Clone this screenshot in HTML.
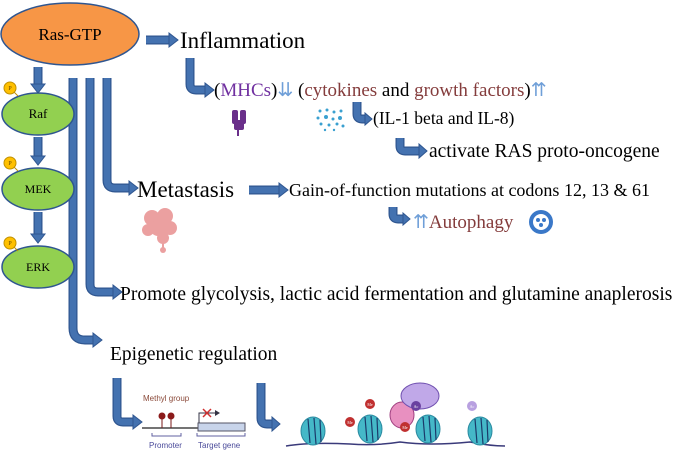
<!DOCTYPE html>
<html><head><meta charset="utf-8"><style>
html,body{margin:0;padding:0;background:#fff;}
svg{display:block;}
text{font-family:"Liberation Serif",serif;}
.s{font-family:"Liberation Sans",sans-serif;}
</style></head><body>
<svg width="685" height="453" viewBox="0 0 685 453" xmlns="http://www.w3.org/2000/svg">
<g fill="none" stroke-linejoin="round">
 <g stroke="#2f5690" stroke-width="9">
  <path d="M146 40H170"/>
  <path d="M190 58V84Q190 90 196 90H206"/>
  <path d="M38 67V85M38 137V157M38 212V235"/>
  <path d="M73 78V328Q73 340 85 340H94"/>
  <path d="M90 78V284Q90 292 98 292H114"/>
  <path d="M107 78V180Q107 188 115 188H130"/>
  <path d="M249 190H280"/>
  <path d="M357 102V114Q357 119 362 119H366"/>
  <path d="M400 138V146Q400 151 405 151H420"/>
  <path d="M393 207V214Q393 219 398 219H404"/>
  <path d="M117 378V416Q117 422 123 422H134"/>
  <path d="M261 383V418Q261 424 267 424H273"/>
 </g>
 <g stroke="#4472b0" stroke-width="6.5">
  <path d="M146 40H170"/>
  <path d="M190 58V84Q190 90 196 90H206"/>
  <path d="M38 67V85M38 137V157M38 212V235"/>
  <path d="M73 78V328Q73 340 85 340H94"/>
  <path d="M90 78V284Q90 292 98 292H114"/>
  <path d="M107 78V180Q107 188 115 188H130"/>
  <path d="M249 190H280"/>
  <path d="M357 102V114Q357 119 362 119H366"/>
  <path d="M400 138V146Q400 151 405 151H420"/>
  <path d="M393 207V214Q393 219 398 219H404"/>
  <path d="M117 378V416Q117 422 123 422H134"/>
  <path d="M261 383V418Q261 424 267 424H273"/>
 </g>
</g>
<g fill="#4472b0" stroke="#2f5690" stroke-width="1">
 <polygon points="169,33 178,40 169,47"/>
 <polygon points="205,83 214,90 205,97"/>
 <polygon points="31,84 45,84 38,93"/>
 <polygon points="31,156 45,156 38,165"/>
 <polygon points="31,234 45,234 38,243"/>
 <polygon points="93,333 102,340 93,347"/>
 <polygon points="113,285 122,292 113,299"/>
 <polygon points="129,181 138,188 129,195"/>
 <polygon points="279,183 288,190 279,197"/>
 <polygon points="365,113 372,119 365,125"/>
 <polygon points="419,144 427,151 419,158"/>
 <polygon points="403,213 410,219 403,225"/>
 <polygon points="133,415 142,422 133,429"/>
 <polygon points="272,417 280,424 272,431"/>
</g>
<ellipse cx="70" cy="34" rx="69" ry="31" fill="#f79646" stroke="#2f5690" stroke-width="1.5"/>
<text x="70" y="40" font-size="17" text-anchor="middle">Ras-GTP</text>
<g stroke="#2f5690" stroke-width="1.5" fill="#92d050">
 <ellipse cx="38" cy="114" rx="36" ry="21"/>
 <ellipse cx="38" cy="189" rx="36" ry="21"/>
 <ellipse cx="38" cy="267" rx="36" ry="21"/>
</g>
<text x="38" y="118" font-size="13" text-anchor="middle">Raf</text>
<text x="38" y="193" font-size="12" text-anchor="middle">MEK</text>
<text x="38" y="271" font-size="12" text-anchor="middle">ERK</text>
<g fill="#ffc000" stroke="#c09000"><line x1="10" y1="88" x2="18" y2="96"/><line x1="10" y1="163" x2="18" y2="171"/><line x1="10" y1="243" x2="18" y2="251"/>
<circle cx="10" cy="88" r="6"/><circle cx="10" cy="163" r="6"/><circle cx="10" cy="243" r="6"/></g>
<g class="s" font-size="6" fill="#6b4a00" text-anchor="middle"><text x="10" y="90">P</text><text x="10" y="165">P</text><text x="10" y="245">P</text></g>

<text x="180" y="48" font-size="23">Inflammation</text>
<text x="214" y="96" font-size="19">(<tspan fill="#7030a0">MHCs</tspan>)<tspan fill="#6f9fd8">⇊</tspan> (<tspan fill="#843c3c">cytokines</tspan> and <tspan fill="#843c3c">growth factors</tspan>)<tspan fill="#6f9fd8">⇈</tspan></text>
<text x="373" y="124" font-size="17.5">(IL-1 beta and IL-8)</text>
<text x="429" y="157" font-size="19.5">activate RAS proto-oncogene</text>
<text x="137" y="197" font-size="23">Metastasis</text>
<text x="289" y="196" font-size="18">Gain-of-function mutations at codons 12, 13 &amp; 61</text>
<text x="413" y="228" font-size="19"><tspan fill="#6f9fd8">⇈</tspan><tspan fill="#843c3c">Autophagy</tspan></text>
<circle cx="541" cy="222" r="12" fill="#3a78c8"/><circle cx="541" cy="222" r="8" fill="#fff"/>
<circle cx="538" cy="220" r="2" fill="#3a78c8"/><circle cx="544" cy="220" r="2" fill="#3a78c8"/><circle cx="541" cy="225" r="2" fill="#3a78c8"/>
<text x="120" y="300" font-size="19.5">Promote glycolysis, lactic acid fermentation and glutamine anaplerosis</text>
<text x="110" y="360" font-size="19.5">Epigenetic regulation</text>

<g fill="#6a2f8a"><rect x="232" y="110" width="6" height="14" rx="2"/><rect x="240" y="110" width="6" height="14" rx="2"/><rect x="234" y="120" width="10" height="10" rx="2"/><rect x="237" y="128" width="2" height="8"/></g>
<g fill="#3aa0d0"><circle cx="320" cy="111" r="1.5"/><circle cx="327" cy="110" r="1.5"/><circle cx="334" cy="112" r="1.5"/><circle cx="341" cy="111" r="1.5"/><circle cx="318" cy="118" r="1.5"/><circle cx="326" cy="117" r="2"/><circle cx="333" cy="119" r="1.5"/><circle cx="340" cy="118" r="2"/><circle cx="321" cy="124" r="1.5"/><circle cx="329" cy="125" r="1.5"/><circle cx="337" cy="124" r="1.5"/><circle cx="343" cy="126" r="1.5"/><circle cx="325" cy="130" r="1.2"/><circle cx="334" cy="130" r="1.2"/></g>
<g fill="#e89090" opacity="0.85"><circle cx="152" cy="218" r="8"/><circle cx="165" cy="216" r="8"/><circle cx="158" cy="228" r="8"/><circle cx="170" cy="228" r="7"/><circle cx="163" cy="238" r="6"/><circle cx="148" cy="230" r="6"/><rect x="162" y="240" width="2" height="8"/><circle cx="163" cy="250" r="3"/></g>

<text x="143" y="401" class="s" font-size="8" fill="#8b4a3a">Methyl group</text>
<line x1="142" y1="428" x2="245" y2="428" stroke="#222" stroke-width="1.2"/>
<rect x="198" y="423" width="47" height="8" fill="#c8d4ea" stroke="#556" stroke-width="1"/>
<g stroke="#7a1a1a"><line x1="162" y1="418" x2="162" y2="428"/><line x1="171" y1="418" x2="171" y2="428"/></g>
<circle cx="162" cy="416" r="3.5" fill="#8b1a1a"/><circle cx="171" cy="416" r="3.5" fill="#8b1a1a"/>
<path d="M199 423V413H215" stroke="#334" fill="none"/><polygon points="215,410 220,413 215,416" fill="#334"/>
<path d="M203 409L211 417M211 409L203 417" stroke="#d03030" stroke-width="1.5"/>
<path d="M152 433v3h29v-3M197 433v3h48v-3" stroke="#6060a0" fill="none"/>
<text x="149" y="448" class="s" font-size="8" fill="#4a4a9a">Promoter</text>
<text x="198" y="448" class="s" font-size="8" fill="#4a4a9a">Target gene</text>

<path d="M286 446Q310 442 350 444Q375 446 400 442Q430 446 470 442Q490 446 505 446" stroke="#3a3a7a" fill="none" stroke-width="1.5"/>
<g fill="#45b8c8" stroke="#2a8aa0"><ellipse cx="313" cy="431" rx="12" ry="14"/><ellipse cx="370" cy="429" rx="12" ry="14"/><ellipse cx="428" cy="429" rx="12" ry="14"/><ellipse cx="480" cy="431" rx="12" ry="14"/></g>
<g stroke="#1a3a6a" stroke-width="1.2"><path d="M308 419L310 443M314 418L316 444M320 420L321 442"/><path d="M365 417L367 441M371 416L373 442M377 418L378 440"/><path d="M423 417L425 441M429 416L431 442M435 418L436 440"/><path d="M475 419L477 443M481 418L483 444M487 420L488 442"/></g>
<ellipse cx="402" cy="415" rx="12" ry="13" fill="#e890c0" stroke="#a04080"/>
<ellipse cx="420" cy="396" rx="19" ry="13" fill="#c0a8e8" stroke="#7050b0"/>
<g class="s" font-size="4" fill="#fff" text-anchor="middle">
<circle cx="370" cy="404" r="5" fill="#c03030"/><circle cx="350" cy="422" r="5" fill="#c03030"/><circle cx="405" cy="427" r="5" fill="#c03030"/><circle cx="416" cy="406" r="5" fill="#6a40a0"/><circle cx="472" cy="406" r="5" fill="#b8a0e0"/>
<text x="370" y="406">Me</text><text x="350" y="424">Me</text><text x="405" y="429">Me</text><text x="416" y="408">Ac</text><text x="472" y="408">Ac</text></g>
</svg>
</body></html>
